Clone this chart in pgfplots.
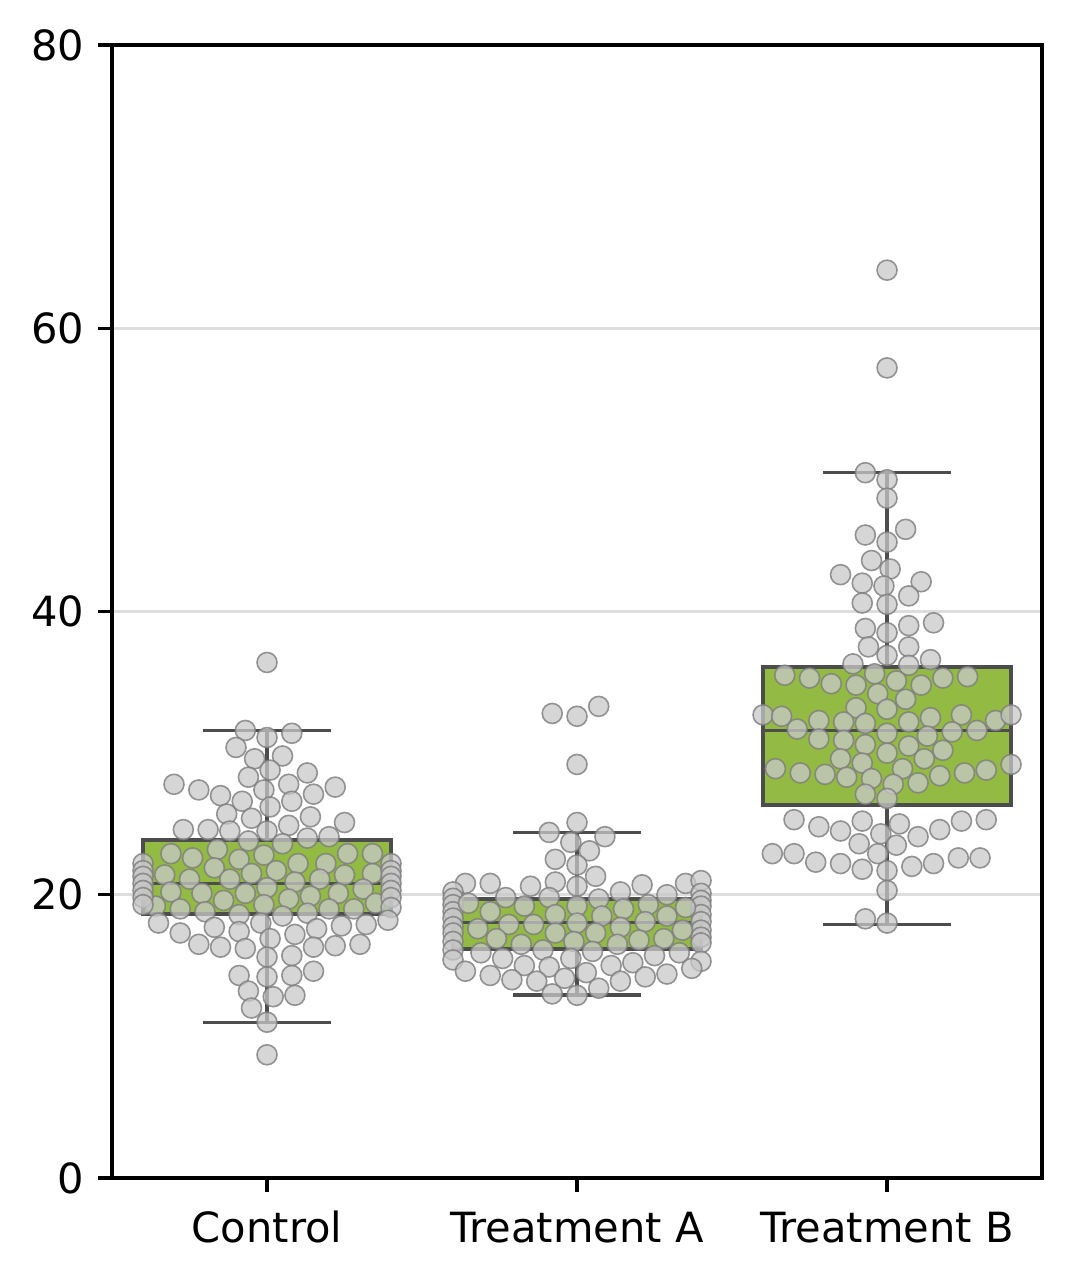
\documentclass[border=0pt]{standalone}
\usepackage{fontspec}
\setmainfont{DejaVu Sans}
\usepackage{pgfplots}
\pgfplotsset{compat=1.18}
\definecolor{boxgreen}{RGB}{147,186,66}
\definecolor{boxline}{RGB}{77,77,77}
\definecolor{gridc}{RGB}{222,222,222}
\definecolor{ptfill}{RGB}{200,200,200}
\definecolor{ptedge}{RGB}{125,125,125}
\begin{document}
\begin{tikzpicture}
\begin{axis}[
  scale only axis,
  width=232.5pt, height=283.25pt,
  xmin=-0.5, xmax=2.5, ymin=0, ymax=80,
  xtick={0,1,2},
  xticklabels={Control, Treatment A, Treatment B},
  ytick={0,20,40,60,80},
  xtick pos=lower, ytick pos=left,
  tick align=outside,
  major tick length=3.5pt,
  major tick style={black, line width=0.8pt},
  axis line style={black, line width=0.8pt},
  ymajorgrids,
  grid style={gridc, line width=0.7pt},
  /pgf/number format/assume math mode=true,
  tick label style={font=\fontsize{10.4}{12}\selectfont},
  yticklabel style={inner sep=0pt, anchor=east, xshift=-3.25pt},
  xticklabel style={inner sep=0pt, anchor=base, yshift=-12.6pt},
  clip=false,
  boxst/.style={draw=boxline, fill=boxgreen, line width=0.9pt, line join=miter},
  wsk/.style={draw=boxline, line width=0.9pt},
  swarm/.style={only marks, mark=*, mark size=2.5pt,
    mark options={fill=ptfill, draw=ptedge, fill opacity=0.75, draw opacity=0.8, line width=0.4pt}},
]
\coordinate (ll) at (rel axis cs:0,0);
\coordinate (ur) at (rel axis cs:1,1);
% ---- Control: whiskers 10.97 / 31.6, box 18.64 - 23.87, median 20.8
\addplot[wsk] coordinates {(0,23.87) (0,31.6)};
\addplot[wsk] coordinates {(0,18.64) (0,10.97)};
\addplot[wsk] coordinates {(-0.205,31.6) (0.205,31.6)};
\addplot[wsk] coordinates {(-0.205,10.97) (0.205,10.97)};
\addplot[boxst] coordinates {(-0.4,18.64) (0.4,18.64) (0.4,23.87) (-0.4,23.87)} -- cycle;
\addplot[wsk] coordinates {(-0.4,20.8) (0.4,20.8)};
% ---- Treatment A: whiskers 12.94 / 24.4, box 16.17 - 19.68, median 18.05
\addplot[wsk] coordinates {(1,19.68) (1,24.4)};
\addplot[wsk] coordinates {(1,16.17) (1,12.94)};
\addplot[wsk] coordinates {(0.795,24.4) (1.205,24.4)};
\addplot[wsk] coordinates {(0.795,12.94) (1.205,12.94)};
\addplot[boxst] coordinates {(0.6,16.17) (1.4,16.17) (1.4,19.68) (0.6,19.68)} -- cycle;
\addplot[wsk] coordinates {(0.6,18.05) (1.4,18.05)};
% ---- Treatment B: whiskers 17.9 / 49.8, box 26.34 - 36.06, median 31.6
\addplot[wsk] coordinates {(2,36.06) (2,49.8)};
\addplot[wsk] coordinates {(2,26.34) (2,17.9)};
\addplot[wsk] coordinates {(1.795,49.8) (2.205,49.8)};
\addplot[wsk] coordinates {(1.795,17.9) (2.205,17.9)};
\addplot[boxst] coordinates {(1.6,26.34) (2.4,26.34) (2.4,36.06) (1.6,36.06)} -- cycle;
\addplot[wsk] coordinates {(1.6,31.6) (2.4,31.6)};
% ---- swarm points
% Control
\addplot[swarm] coordinates {
(0.00,36.4) (-0.07,31.6) (0.00,31.1) (0.08,31.4) (-0.10,30.4) (-0.04,29.6) (0.05,29.8)
(0.01,28.8) (-0.06,28.3) (0.13,28.6) (-0.30,27.8) (-0.22,27.4) (-0.15,27.0) (-0.01,27.4)
(0.07,27.8) (0.15,27.1) (0.22,27.6) (-0.08,26.6) (0.08,26.6) (0.01,26.2) (-0.13,25.7)
(-0.05,25.4) (0.14,25.5) (-0.27,24.6) (-0.19,24.6) (-0.12,24.5) (0.00,24.5) (0.07,24.9)
(0.25,25.1) (-0.06,23.8) (0.05,23.6) (0.13,24.0) (0.20,24.1)
(-0.31,22.9) (-0.24,22.6) (-0.16,23.2) (-0.09,22.5) (-0.01,22.8) (0.10,22.2) (0.19,22.2)
(0.26,22.9) (0.34,22.9)
(-0.33,21.4) (-0.25,21.1) (-0.17,21.9) (-0.12,21.1) (-0.05,21.5) (0.03,21.7) (0.09,20.9)
(0.17,21.1) (0.25,21.4) (0.34,21.5)
(-0.31,20.2) (-0.21,20.1) (-0.14,19.6) (-0.07,20.1) (0.00,20.5) (0.07,19.7) (0.14,19.9)
(0.23,20.1) (0.31,20.4)
(-0.36,19.2) (-0.28,19.0) (-0.20,18.8) (-0.09,18.6) (-0.01,19.3) (0.05,18.5) (0.13,18.7)
(0.20,19.0) (0.28,19.0) (0.35,19.4)
(-0.40,22.2) (-0.40,21.7) (-0.40,21.3) (-0.40,20.8) (-0.40,20.3) (-0.40,19.8) (-0.40,19.3)
(0.40,22.2) (0.40,21.7) (0.40,21.3) (0.40,20.8) (0.40,20.3) (0.40,19.8) (0.40,19.1)
(-0.35,18.0) (-0.28,17.3) (-0.22,16.5) (-0.17,17.7) (-0.15,16.3) (-0.09,17.4) (-0.07,16.2)
(-0.02,18.0) (0.01,16.9) (0.09,17.2) (0.16,17.6) (0.15,16.3) (0.22,16.4) (0.24,17.8)
(0.32,17.9) (0.30,16.5) (0.39,18.2) (0.00,15.6) (0.08,15.7) (-0.09,14.3) (0.00,14.2)
(0.08,14.3) (0.15,14.6) (-0.06,13.2) (0.02,12.8) (0.09,12.9) (-0.05,12.0) (0.00,11.0)
(0.00,8.7)
};
% Treatment A
\addplot[swarm] coordinates {
(0.92,32.8) (1.00,32.6) (1.07,33.3) (1.00,29.2) (1.00,25.1) (0.91,24.4) (1.09,24.1)
(0.98,23.7) (1.04,23.1) (0.93,22.5) (1.00,22.1) (1.06,21.3) (0.93,20.9)
(0.64,20.8) (0.72,20.8) (0.85,20.6) (1.00,20.6) (1.14,20.2) (1.21,20.7) (1.29,20.0)
(1.35,20.8) (0.77,19.8) (0.91,19.8) (1.07,19.7)
(0.60,20.2) (0.60,19.75) (0.60,19.3) (0.60,18.8) (0.60,18.35) (0.60,17.75) (0.60,17.3)
(0.60,16.7) (0.60,16.1) (0.60,15.4)
(1.40,21.0) (1.40,20.1) (1.40,19.6) (1.40,19.2) (1.40,18.6) (1.40,18.1) (1.40,17.5)
(1.40,17.0) (1.40,16.6) (1.40,15.3)
(0.65,19.4) (0.72,18.8) (0.83,19.2) (0.93,18.6) (1.00,19.2) (1.08,18.5) (1.15,19.0)
(1.23,19.3) (1.29,18.5) (1.35,19.1)
(0.68,17.6) (0.78,17.9) (0.86,17.9) (0.93,17.3) (1.00,18.0) (1.06,17.3) (1.14,17.7)
(1.22,18.1) (1.28,16.9) (1.34,17.5)
(0.74,16.9) (0.82,16.5) (0.89,16.1) (0.99,16.7) (1.13,16.5) (1.20,16.8)
(0.69,15.9) (0.76,15.5) (0.83,15.0) (0.91,14.9) (0.98,15.5) (1.05,16.0) (1.11,15.0)
(1.18,15.2) (1.25,15.7) (1.33,15.9) (1.37,14.8)
(0.64,14.6) (0.72,14.3) (0.79,14.0) (0.87,13.9) (0.96,14.1) (1.03,14.5) (1.14,13.9)
(1.22,14.2) (1.29,14.4) (0.92,13.0) (1.00,12.9) (1.07,13.4)
};
% Treatment B
\addplot[swarm] coordinates {
(2.00,64.1) (2.00,57.2) (1.93,49.8) (2.00,49.3) (2.00,48.0) (1.93,45.4) (2.06,45.8)
(2.00,44.9) (1.95,43.6) (2.01,43.0) (1.85,42.6) (1.92,42.0) (1.99,41.8) (2.11,42.1)
(2.07,41.1) (1.92,40.6) (2.00,40.5) (1.93,38.8) (2.00,38.5) (2.07,39.0) (2.15,39.2)
(1.94,37.5) (2.07,37.5) (2.00,36.9) (1.89,36.3) (2.07,36.2) (2.14,36.6)
(1.67,35.5) (1.75,35.3) (1.82,34.9) (1.96,35.6) (1.90,34.8) (2.03,35.1) (2.11,34.8)
(2.18,35.3) (2.26,35.4) (1.97,34.2) (2.06,33.8) (1.90,33.2) (2.00,33.1)
(1.60,32.7) (1.66,32.6) (1.71,31.7) (1.78,32.3) (1.86,32.2) (1.93,32.1) (2.07,32.2)
(2.14,32.5) (2.24,32.7) (2.35,32.3) (2.40,32.7) (2.21,31.5) (2.29,31.6) (2.00,31.4)
(1.78,31.0) (1.86,30.9) (1.93,30.6) (2.13,31.2) (2.07,30.5) (2.00,30.0) (2.18,30.2)
(1.85,29.6) (1.92,29.3) (2.12,29.6) (2.05,28.9)
(1.64,28.9) (1.72,28.6) (1.80,28.5) (1.87,28.3) (1.95,28.2) (2.02,27.8) (2.10,27.9)
(2.17,28.4) (2.25,28.6) (2.32,28.8) (2.40,29.2) (1.93,27.1) (2.00,26.8)
(1.70,25.3) (1.78,24.8) (1.85,24.5) (1.92,25.2) (1.98,24.3) (2.04,25.0) (1.91,23.6)
(2.03,23.5) (2.10,24.1) (2.17,24.6) (2.24,25.2) (2.32,25.3)
(1.63,22.9) (1.70,22.9) (1.77,22.3) (1.85,22.2) (1.97,22.9) (1.92,21.8) (2.00,21.7)
(2.08,22.0) (2.15,22.2) (2.23,22.6) (2.30,22.6) (2.00,20.3) (1.93,18.3) (2.00,18.0)
};
\end{axis}
\pgfresetboundingbox
\path ([shift={(-28pt,-25.5pt)}]ll) rectangle ([shift={(7.5pt,11.25pt)}]ur);
\end{tikzpicture}
\end{document}
